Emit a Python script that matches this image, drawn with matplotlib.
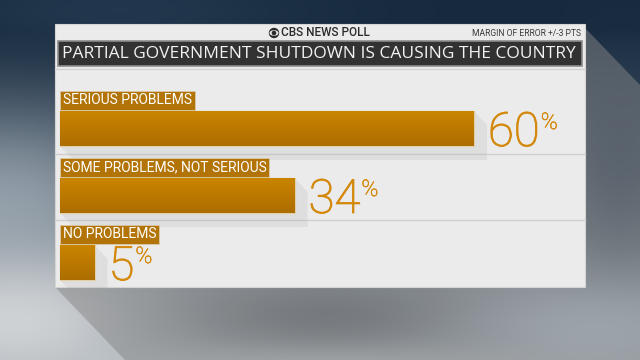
import numpy as np
import matplotlib
matplotlib.use('Agg')
import matplotlib.pyplot as plt
import matplotlib.patheffects as pe
from matplotlib.patches import Rectangle, Polygon, Circle, Ellipse
from matplotlib.colors import LinearSegmentedColormap

# ---- data ----
categories = ["SERIOUS PROBLEMS", "SOME PROBLEMS, NOT SERIOUS", "NO PROBLEMS"]
values = [60, 34, 5]
title = "PARTIAL GOVERNMENT SHUTDOWN IS CAUSING THE COUNTRY"
header = "CBS NEWS POLL"
margin_note = "MARGIN OF ERROR +/-3 PTS"

W, H = 640, 360
fig = plt.figure(figsize=(6.4, 3.6), dpi=100)
renderer = fig.canvas.get_renderer()

bg = fig.add_axes([0, 0, 1, 1])
bg.set_xlim(0, W)
bg.set_ylim(H, 0)
bg.axis('off')

# ---- sky background ----
yy, xx = np.mgrid[0:H, 0:W].astype(float)
def hexc(h):
    h = h.lstrip('#')
    return np.array([int(h[i:i + 2], 16) for i in (0, 2, 4)]) / 255.0

img = np.zeros((H, W, 3))
s = np.clip((yy / H) * 1.25 - 0.1, 0, 1)[..., None]
img[:] = hexc('#16293d') * (1 - s) + hexc('#9aa4ad') * s

def blob(cx, cy, rx, ry, col, k):
    w = np.exp(-(((xx - cx) / rx) ** 2 + ((yy - cy) / ry) ** 2))[..., None] * k
    img[:] = img * (1 - w) + hexc(col) * w

blob(0, 200, 120, 80, '#9aa6b0', 0.8)
blob(20, 320, 160, 70, '#d6d8da', 0.9)
blob(620, 150, 60, 120, '#22364b', 0.7)
blob(330, 315, 150, 35, '#505860', 0.7)
blob(600, 330, 130, 50, '#b8c8d6', 0.85)
blob(120, 10, 200, 40, '#2a4057', 0.6)
blob(320, 365, 300, 18, '#c2c6c8', 0.8)
bg.imshow(img, extent=(0, W, H, 0), zorder=0, aspect='auto')

# long shadow of panel
bg.add_patch(Polygon([(55, 287), (585, 287), (585, 28), (640, 85), (640, 360), (125, 360)],
                     closed=True, fc='#868686', ec='none', alpha=0.5, zorder=1))

# panel
bg.add_patch(Rectangle((55, 24), 530, 263, fc='#ebebeb', ec='#d4d4d4', lw=0.8, zorder=2))
# title bar
bg.add_patch(Rectangle((58, 41), 524, 25, fc='#323232', ec='#8c8c8c', lw=1.2, zorder=3))
bg.plot([55, 585], [68.5, 68.5], color='#d2d2d2', lw=1, zorder=3)
# separators
for yl in (154, 220):
    bg.plot([55, 585], [yl, yl], color='#cfcfcf', lw=1, zorder=3)

def fit(t, target_w):
    bb = t.get_window_extent(renderer)
    t.set_fontsize(t.get_fontsize() * target_w / bb.width)

# header
hd = bg.text(281, 33, header, ha='left', va='center', color='#2a2a2a',
             family=['Roboto', 'DejaVu Sans'], fontweight='medium', fontsize=10, zorder=4)
fit(hd, 89)
bg.add_patch(Circle((274, 33), 5.2, fc='#2a2a2a', ec='none', zorder=4))
bg.add_patch(Ellipse((274, 33), 9.0, 5.6, fc='#ebebeb', ec='none', zorder=5))
bg.add_patch(Circle((274, 33), 2.3, fc='#2a2a2a', ec='none', zorder=6))

mn = bg.text(581, 33, margin_note, ha='right', va='center', color='#3a3a3a',
             family=['Roboto', 'DejaVu Sans'], fontsize=7, zorder=4)
fit(mn, 109)

tt = bg.text(319, 54, title, ha='center', va='center', color='#f2f2f2',
             family=['Open Sans', 'DejaVu Sans'], fontsize=13, zorder=4)
fit(tt, 510)

# ---- data axes ----
px_per_unit = 6.9
x0_px = 60
row_px = 67
c0_px = 128.5
ax = fig.add_axes([0, 0, 1, 1])
ax.set_xlim(-x0_px / px_per_unit, (W - x0_px) / px_per_unit)
ax.set_ylim((H - c0_px) / row_px, -c0_px / row_px)
ax.patch.set_alpha(0)
ax.axis('off')

ypos = np.arange(len(values))
bh = 35 / row_px
bars = ax.barh(ypos, values, height=bh, color='#c07c02', edgecolor='#e2cfa6',
               linewidth=0.9, zorder=5)

dx = 13 / px_per_unit
dy = 14 / row_px
grad = np.linspace(0, 1, 50)[:, None]
cm = LinearSegmentedColormap.from_list('o', ['#c98400', '#ad6e00'])
for b in bars:
    x, y, w, h = b.get_x(), b.get_y(), b.get_width(), b.get_height()
    ax.add_patch(Polygon([(x + w, y), (x + w + dx, y + dy), (x + w + dx, y + h + dy),
                          (x + dx, y + h + dy), (x, y + h)], closed=True,
                         fc='#a0a0a0', ec='none', alpha=0.16, zorder=4))
    im = ax.imshow(grad, cmap=cm, extent=(x, x + w, y + h, y), aspect='auto',
                   zorder=5.5, interpolation='bilinear')
    im.set_clip_path(b)

num_font = ['Roboto', 'DejaVu Sans']
orange = '#d4890c'
thick = [pe.withStroke(linewidth=0.7, foreground=orange)]
for i, (cat, v) in enumerate(zip(categories, values)):
    ax.annotate(cat, xy=(0, i - 0.425), xytext=(3, 0), textcoords='offset pixels',
                ha='left', va='center', color='white',
                family=['Roboto', 'DejaVu Sans'], fontsize=10, zorder=7,
                bbox=dict(boxstyle='square,pad=0.18', fc='#b27407', ec='#d9c7a5', lw=0.6))
    num = ax.annotate(f"{v}", xy=(v, i + bh / 2), xytext=(14, 0), textcoords='offset pixels',
                      ha='left', va='baseline', color=orange, fontweight='light',
                      family=num_font, fontsize=34, zorder=7, path_effects=thick)
    ax.annotate('%', xy=(1, 1), xycoords=num, xytext=(1, 0), textcoords='offset pixels',
                ha='left', va='top', color=orange, fontweight='light',
                family=num_font, fontsize=16.5, zorder=7,
                path_effects=[pe.withStroke(linewidth=0.4, foreground=orange)])

fig.savefig('out.png', dpi=100)
